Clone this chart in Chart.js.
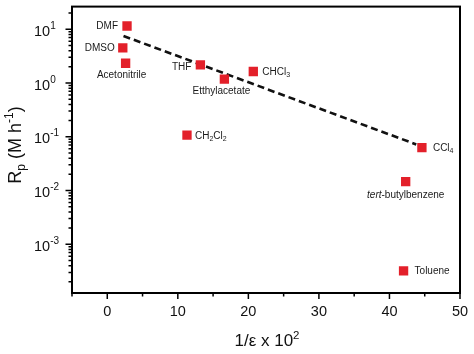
<!DOCTYPE html>
<html lang="en">
<head>
<meta charset="UTF-8">
<title>Rp vs 1/eps</title>
<script src="https://cdn.jsdelivr.net/npm/chart.js"></script>
<style>
  body { margin: 0; background: #fff; }
  #wrap { width: 474px; height: 354px; }
</style>
</head>
<body>
<div id="wrap"><canvas id="chartCanvas" width="474" height="354"></canvas></div>
<script>
// solvent data
const solvents = ['DMF', 'DMSO', 'Acetonitrile', 'THF', 'Etthylacetate', 'CHCl3', 'CH2Cl2', 'CCl4', 'tert-butylbenzene', 'Toluene'];
const invEps = [2.8, 2.2, 2.6, 13.2, 16.6, 20.7, 11.3, 44.6, 42.3, 42.0];
const rateRp = [11.5, 4.5, 2.33, 2.17, 1.18, 1.64, 0.107, 0.063, 0.0146, 0.00032];
// dashed fit line end points
const fitX = [2.3, 43.8];
const fitY = [7.5, 0.072];
// axis ticks
const xTickLabels = [0, 10, 20, 30, 40, 50];
const xMinorTicks = [-5, 5, 15, 25, 35, 45];
const yDecades = [-3, -2, -1, 0, 1];

const FONT = 'Arial, "Liberation Sans", sans-serif';

// where each label sits relative to its marker
const labelPos = {
    'DMF': { side: 'left', dx: -9, dy: 0 },
    'DMSO': { side: 'left', dx: -8, dy: 0 },
    'Acetonitrile': { side: 'below', dx: -4, dy: 11 },
    'THF': { side: 'left', dx: -9, dy: 2 },
    'Etthylacetate': { side: 'below', dx: -3, dy: 11 },
    'CHCl3': { side: 'right', dx: 9, dy: 0 },
    'CH2Cl2': { side: 'right', dx: 8, dy: 0 },
    'CCl4': { side: 'right', dx: 11, dy: 0 },
    'tert-butylbenzene': { side: 'below', dx: 0, dy: 13 },
    'Toluene': { side: 'right', dx: 11, dy: 0 }
};

// split a name into text runs, chemical digits become subscripts
function nameParts(name) {
    if (name.startsWith('tert-')) {
        return [{ t: 'tert', size: 10, italic: true }, { t: name.slice(4), size: 10 }];
    }
    const parts = [];
    const re = /(\d+)|(\D+)/g;
    let m;
    while ((m = re.exec(name)) !== null) {
        if (m[1]) parts.push({ t: m[1], size: 7, dy: 2 });
        else parts.push({ t: m[2], size: 10 });
    }
    return parts;
}

function setFont(ctx, p) {
    ctx.font = (p.italic ? 'italic ' : '') + p.size + 'px ' + FONT;
}

function richWidth(ctx, parts) {
    let w = 0;
    parts.forEach(p => { setFont(ctx, p); w += ctx.measureText(p.t).width; });
    return w;
}

// draw runs along a baseline, align: left | right | center
function drawRich(ctx, parts, x, y, align) {
    const w = richWidth(ctx, parts);
    let cx = align === 'right' ? x - w : align === 'center' ? x - w / 2 : x;
    ctx.textAlign = 'left';
    ctx.textBaseline = 'alphabetic';
    parts.forEach(p => {
        setFont(ctx, p);
        ctx.fillText(p.t, cx, y + (p.dy || 0));
        cx += ctx.measureText(p.t).width;
    });
}

const decorPlugin = {
    id: 'decor',
    afterDraw(chart) {
        const ctx = chart.ctx;
        const area = chart.chartArea;
        const xs = chart.scales.x;
        const ys = chart.scales.y;
        ctx.save();
        ctx.strokeStyle = '#000';
        ctx.fillStyle = '#000';

        // frame
        ctx.lineWidth = 2;
        ctx.strokeRect(area.left, area.top, area.right - area.left, area.bottom - area.top);

        // x ticks
        ctx.lineWidth = 1.5;
        ctx.beginPath();
        xTickLabels.forEach(v => {
            const px = xs.getPixelForValue(v);
            ctx.moveTo(px, area.bottom); ctx.lineTo(px, area.bottom + 6);
        });
        xMinorTicks.forEach(v => {
            const px = xs.getPixelForValue(v);
            ctx.moveTo(px, area.bottom); ctx.lineTo(px, area.bottom + 3.5);
        });
        // y ticks (log, major + minor)
        for (let d = -4; d <= 1; d++) {
            for (let k = 1; k <= 9; k++) {
                const v = k * Math.pow(10, d);
                if (v < ys.min || v > ys.max) continue;
                const py = ys.getPixelForValue(v);
                ctx.moveTo(area.left, py);
                ctx.lineTo(area.left - (k === 1 ? 6.5 : 3.5), py);
            }
        }
        ctx.stroke();

        // tick labels
        ctx.fillStyle = '#111';
        ctx.font = '14.5px ' + FONT;
        ctx.textAlign = 'center';
        ctx.textBaseline = 'middle';
        xTickLabels.forEach(v => {
            ctx.fillText(String(v), xs.getPixelForValue(v), area.bottom + 19);
        });
        yDecades.forEach(d => {
            const py = ys.getPixelForValue(Math.pow(10, d));
            drawRich(ctx, [
                { t: '10', size: 14.5 },
                { t: d < 0 ? '-' + (-d) : String(d), size: 10, dy: -7 }
            ], 34, py + 6.5, 'left');
        });

        // axis titles
        drawRich(ctx, [
            { t: '1/\u03b5 x 10', size: 17 },
            { t: '2', size: 11.5, dy: -7.5 }
        ], 267, 346, 'center');

        ctx.save();
        ctx.translate(21, 145);
        ctx.rotate(-Math.PI / 2);
        drawRich(ctx, [
            { t: 'R', size: 18 },
            { t: 'p', size: 12, dy: 4 },
            { t: ' (M h', size: 18 },
            { t: '-1', size: 12, dy: -8 },
            { t: ')', size: 18 }
        ], 0, 0, 'center');
        ctx.restore();

        // point labels
        const meta = chart.getDatasetMeta(0);
        ctx.fillStyle = '#1a1a1a';
        solvents.forEach((name, i) => {
            const pt = meta.data[i];
            const lp = labelPos[name];
            const align = lp.side === 'left' ? 'right' : lp.side === 'right' ? 'left' : 'center';
            drawRich(ctx, nameParts(name), pt.x + lp.dx, pt.y + lp.dy + 3.5, align);
        });

        ctx.restore();
    }
};

const ctx = document.getElementById('chartCanvas').getContext('2d');
new Chart(ctx, {
    data: {
        datasets: [
            {
                type: 'scatter',
                label: 'Rp',
                data: invEps.map((x, i) => ({ x: x, y: rateRp[i] })),
                pointStyle: 'rect',
                pointRadius: 6.6,
                backgroundColor: '#e3202a',
                borderWidth: 0,
                order: 0
            },
            {
                type: 'line',
                label: 'fit',
                data: fitX.map((x, i) => ({ x: x, y: fitY[i] })),
                borderColor: '#111',
                borderWidth: 2.6,
                borderDash: [7, 4],
                pointRadius: 0,
                fill: false,
                order: 1
            }
        ]
    },
    options: {
        responsive: false,
        animation: false,
        layout: { padding: { left: 0, top: 2, right: 14, bottom: 0 } },
        plugins: {
            legend: { display: false },
            tooltip: { enabled: false }
        },
        scales: {
            x: {
                type: 'linear',
                min: -5,
                max: 50,
                grid: { display: false },
                border: { display: false },
                ticks: { display: false },
                afterFit(scale) { scale.height = 61; }
            },
            y: {
                type: 'logarithmic',
                min: 1.24e-4,
                max: 26.4,
                grid: { display: false },
                border: { display: false },
                ticks: { display: false },
                afterFit(scale) { scale.width = 72; }
            }
        }
    },
    plugins: [decorPlugin]
});
</script>
</body>
</html>
